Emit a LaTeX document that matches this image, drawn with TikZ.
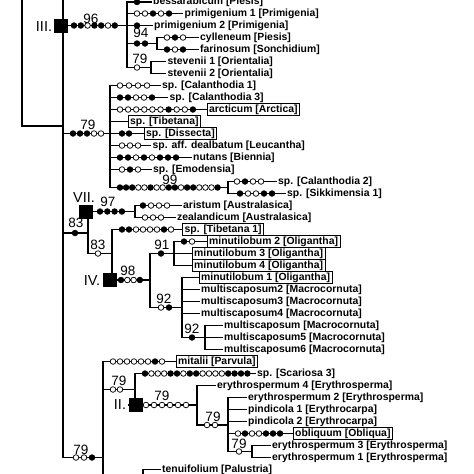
\documentclass[tikz,border=0pt]{standalone}
\usepackage{fontspec}
\setmainfont{Liberation Sans}
\usepackage{tikz}
\usetikzlibrary{positioning}
\tikzset{
    tree/.style={line width=1.1pt},
    taxon/.style={anchor=west, inner xsep=1.5pt, inner ysep=0pt,
        text height=7.4pt, text depth=2.1pt,
        font=\fontsize{10.4}{12}\selectfont\bfseries},
    taxon box/.style={taxon, draw, line width=0.9pt, inner xsep=2.2pt, inner ysep=1pt},
    support/.style={font=\fontsize{13.5}{15}\selectfont, inner sep=0pt},
    clade mark/.style={font=\fontsize{14.5}{16}\selectfont, inner sep=0pt},
    clade box/.style={fill=black, inner sep=0pt, minimum size=14pt},
    bead0/.style={circle, draw, fill=white, line width=0.75pt, inner sep=0pt, minimum size=5.6pt},
    bead1/.style={bead0, fill=black},
}
\newcommand\beadrow[4]{%
  \foreach \f [count=\i from 0] in {#4} {%
    \ifnum\f=1 \node[bead1] at ({#2+\i*#3},#1) {};%
    \else \node[bead0] at ({#2+\i*#3},#1) {};\fi}}

\begin{document}
\begin{tikzpicture}[x=1pt, y=-1pt]
  \useasboundingbox (0,0) rectangle (474,474);
  \clip (0,0) rectangle (474,474);

  % internal nodes: x of the bar, y of the incoming branch
  \coordinate (root) at (22,-6);
  \coordinate (nA) at (63,126);
  \coordinate (nAtop) at (63,-6);
  \coordinate (nIII) at (127,25.5);
  \coordinate (n94) at (157,43.5);
  \coordinate (n79a) at (151,67.5);
  \coordinate (nB) at (110,133.5);
  \coordinate (n99) at (228,187.5);
  \coordinate (nC) at (88,233);
  \coordinate (nVII) at (135,211.5);
  \coordinate (nD) at (112,253.5);
  \coordinate (nE) at (150,280);
  \coordinate (n91) at (174,253.5);
  \coordinate (n92a) at (182,307.5);
  \coordinate (n92b) at (205,337.5);
  \coordinate (nF) at (103,457.5);
  \coordinate (nFbot) at (103,480);
  \coordinate (nG) at (135,389.5);
  \coordinate (nH) at (197,405);
  \coordinate (nI) at (228,425);
  \coordinate (nJ) at (252,451.5);
  \coordinate (nK) at (143,480);

  % clade boxes and marks
  \node[clade box] (boxIII) at (61,25.5) {};
  \node[clade box] (boxVII) at (86,211.5) {};
  \node[clade box] (boxIV) at (110,280) {};
  \node[clade box] (boxII) at (135.5,405) {};
  \node[clade mark] (mIII) at (44,27) {III.};
  \node[clade mark] (mVII) at (84,197.5) {VII.};
  \node[clade mark] (mIV) at (92,281) {IV.};
  \node[clade mark] (mII) at (120,405) {II.};

  % taxa
  \node[taxon] (bess) at (151.5,2) {bessarabicum [Piesis]};
  \node[taxon] (prim1) at (183,13.5) {primigenium 1 [Primigenia]};
  \node[taxon] (prim2) at (152.5,25.5) {primigenium 2 [Primigenia]};
  \node[taxon] (cyll) at (198.5,37.5) {cylleneum [Piesis]};
  \node[taxon] (farin) at (198.5,49.5) {farinosum [Sonchidium]};
  \node[taxon] (stev1) at (166,61.5) {stevenii 1 [Orientalia]};
  \node[taxon] (stev2) at (166,73.5) {stevenii 2 [Orientalia]};
  \node[taxon] (cal1) at (160.5,85.5) {sp. [Calanthodia 1]};
  \node[taxon] (cal3) at (168,97.5) {sp. [Calanthodia 3]};
  \node[taxon box] (arct) at (206.5,109.5) {arcticum [Arctica]};
  \node[taxon box] (tib) at (127.5,121.5) {sp. [Tibetana]};
  \node[taxon box] (diss) at (143.5,133.5) {sp. [Dissecta]};
  \node[taxon] (deal) at (151,145.5) {sp. aff. dealbatum [Leucantha]};
  \node[taxon] (nut) at (191.5,157.5) {nutans [Biennia]};
  \node[taxon] (emod) at (151.5,169.5) {sp. [Emodensia]};
  \node[taxon] (cal2) at (276.5,181.5) {sp. [Calanthodia 2]};
  \node[taxon] (sikk) at (285.5,193.5) {sp. [Sikkimensia 1]};
  \node[taxon] (arist) at (181.5,205.5) {aristum [Australasica]};
  \node[taxon] (zeal) at (175.5,217.5) {zealandicum [Australasica]};
  \node[taxon box] (tib1) at (182,229.5) {sp. [Tibetana 1]};
  \node[taxon box] (min2) at (206.5,241.5) {minutilobum 2 [Oligantha]};
  \node[taxon box] (min3) at (191.5,253.5) {minutilobum 3 [Oligantha]};
  \node[taxon box] (min4) at (191.5,265.5) {minutilobum 4 [Oligantha]};
  \node[taxon box] (min1) at (198.5,277.5) {minutilobum 1 [Oligantha]};
  \node[taxon] (ms2) at (199.5,289.5) {multiscaposum2 [Macrocornuta]};
  \node[taxon] (ms3) at (199.5,301.5) {multiscaposum3 [Macrocornuta]};
  \node[taxon] (ms4) at (199.5,313.5) {multiscaposum4 [Macrocornuta]};
  \node[taxon] (ms) at (222.5,325.5) {multiscaposum [Macrocornuta]};
  \node[taxon] (ms5) at (222.5,337.5) {multiscaposum5 [Macrocornuta]};
  \node[taxon] (ms6) at (222.5,349.5) {multiscaposum6 [Macrocornuta]};
  \node[taxon box] (mit) at (175.5,361.5) {mitalii [Parvula]};
  \node[taxon] (scar) at (255.5,373.5) {sp. [Scariosa 3]};
  \node[taxon] (ery4) at (215.5,385.5) {erythrospermum 4 [Erythrosperma]};
  \node[taxon] (ery2) at (246.5,397.5) {erythrospermum 2 [Erythrosperma]};
  \node[taxon] (pind1) at (246.5,409.5) {pindicola 1 [Erythrocarpa]};
  \node[taxon] (pind2) at (246.5,421.5) {pindicola 2 [Erythrocarpa]};
  \node[taxon box] (obl) at (292.5,433.5) {obliquum [Obliqua]};
  \node[taxon] (ery3) at (270.5,445.5) {erythrospermum 3 [Erythrosperma]};
  \node[taxon] (ery1) at (270.5,457.5) {erythrospermum 1 [Erythrosperma]};
  \node[taxon] (tenu) at (160.5,469.5) {tenuifolium [Palustria]};

  % support values
  \node[support] (s96) at (91,19) {96};
  \node[support] (s94) at (141,33) {94};
  \node[support] (s79a) at (140,59) {79};
  \node[support] (s79b) at (88,125) {79};
  \node[support] (s99) at (170,179.5) {99};
  \node[support] (s97) at (108,202) {97};
  \node[support] (s83a) at (76,223) {83};
  \node[support] (s83b) at (98,245) {83};
  \node[support] (s91) at (162,245) {91};
  \node[support] (s98) at (128,271) {98};
  \node[support] (s92a) at (164,299) {92};
  \node[support] (s92b) at (192,329) {92};
  \node[support] (s79c) at (119,381) {79};
  \node[support] (s79d) at (162,396) {79};
  \node[support] (s79e) at (213,417) {79};
  \node[support] (s79f) at (239,443.5) {79};
  \node[support] (s79g) at (81,449.5) {79};

  % branches
  \draw[tree] (root) |- (nA);
  \draw[tree] (nAtop) |- (nF);
  \draw[tree] (boxIII) -- (nIII);
  \draw[tree] (nA |- nB) -- (nB);
  \draw[tree] (nA |- nC) -- (nC);
  \draw[tree] (nIII) |- (bess.west);
  \draw[tree] (nIII) |- (prim1.west);
  \draw[tree] (nIII) -- (prim2.west);
  \draw[tree] (nIII) |- (n94);
  \draw[tree] (nIII) |- (n79a);
  \draw[tree] (n94) |- (cyll.west);
  \draw[tree] (n94) |- (farin.west);
  \draw[tree] (n79a) |- (stev1.west);
  \draw[tree] (n79a) |- (stev2.west);
  \foreach \t in {cal1, cal3, arct, tib, diss, deal, nut, emod}
    \draw[tree] (nB) |- (\t.west);
  \draw[tree] (nB) |- (n99);
  \draw[tree] (n99) |- (cal2.west);
  \draw[tree] (n99) |- (sikk.west);
  \draw[tree] (nC) |- (boxVII);
  \draw[tree] (nC) |- (nD);
  \draw[tree] (boxVII) -- (nVII);
  \draw[tree] (nVII) |- (arist.west);
  \draw[tree] (nVII) |- (zeal.west);
  \draw[tree] (nD) |- (tib1.west);
  \draw[tree] (nD) |- (boxIV);
  \draw[tree] (boxIV) -- (nE);
  \draw[tree] (nE) |- (n91);
  \draw[tree] (nE) |- (n92a);
  \foreach \t in {min2, min3, min4}
    \draw[tree] (n91) |- (\t.west);
  \foreach \t in {min1, ms2, ms3, ms4}
    \draw[tree] (n92a) |- (\t.west);
  \draw[tree] (n92a) |- (n92b);
  \foreach \t in {ms, ms5, ms6}
    \draw[tree] (n92b) |- (\t.west);
  \draw[tree] (nF) |- (mit.west);
  \draw[tree] (nF) |- (nG);
  \draw[tree] (nF) -- (nFbot);
  \draw[tree] (nG) |- (scar.west);
  \draw[tree] (nG) |- (boxII);
  \draw[tree] (boxII) -- (nH);
  \draw[tree] (nH) |- (ery4.west);
  \draw[tree] (nH) |- (nI);
  \foreach \t in {ery2, pind1, pind2, obl}
    \draw[tree] (nI) |- (\t.west);
  \draw[tree] (nI) |- (nJ);
  \draw[tree] (nJ) |- (ery3.west);
  \draw[tree] (nJ) |- (ery1.west);
  \draw[tree] (nK) |- (tenu.west);

  % character states along the branches
  \beadrow{25.5}{74}{6.8}{1,1,0,1,1,0,1}
  \beadrow{2}{137}{8}{1}
  \beadrow{13.5}{137}{8}{0,0,1,0,1}
  \beadrow{25.5}{137}{8}{1}
  \beadrow{43.5}{137}{8}{1,1}
  \beadrow{37.5}{167}{8}{0,1,0}
  \beadrow{49.5}{167}{8}{1,0,1}
  \beadrow{67.5}{137}{8}{0}
  \beadrow{133.5}{73}{7}{1,1,1,0,0}
  \beadrow{85.5}{120}{9}{0,0,0,0}
  \beadrow{97.5}{120}{8}{1,1,0,0,1}
  \beadrow{109.5}{120}{8.1}{0,0,0,0,0,0,1,0,0,1}
  \beadrow{133.5}{122}{7}{1,1}
  \beadrow{145.5}{122}{8}{0,0,0}
  \beadrow{157.5}{120}{8}{1,1,0,1,0,1,1,1}
  \beadrow{169.5}{122}{8}{0,1,0}
  \beadrow{187.5}{120}{6.1}{1,1,1,0,0,1,0,0,1,1,0,1,1,0,0,0,1}
  \beadrow{181.5}{237}{8}{0,1,0,0}
  \beadrow{193.5}{240}{8}{1,0,0,1,1}
  \beadrow{211.5}{100}{7.3}{1,1,1,1}
  \beadrow{205.5}{143}{8}{1,0,0,0}
  \beadrow{217.5}{145}{8}{0,0,0}
  \beadrow{233}{75}{8}{1}
  \beadrow{253.5}{98}{8}{0}
  \beadrow{229.5}{122}{7}{1,1,0,0,0,0,1,0}
  \beadrow{280}{121}{6.3}{1,0,0,1}
  \beadrow{253.5}{161}{8}{1}
  \beadrow{241.5}{184}{8}{1,0}
  \beadrow{307.5}{161}{8}{0,1}
  \beadrow{337.5}{192}{8}{1}
  \beadrow{457.5}{76}{8}{0,0,1}
  \beadrow{361.5}{113}{7}{0,0,0,0,0,0,1,0}
  \beadrow{389.5}{113}{7}{0,0}
  \beadrow{373.5}{145}{6.4}{1,0,0,0,1,1,0,1,1,0,0,0,0,1,1,1,1}
  \beadrow{405}{146}{8}{0,0,0,0,0,0}
  \beadrow{425}{207}{8}{0,0}
  \beadrow{433.5}{238}{7}{0,1,0,0,1,1,1}
  \beadrow{451.5}{239}{8}{0}
\end{tikzpicture}
\end{document}
